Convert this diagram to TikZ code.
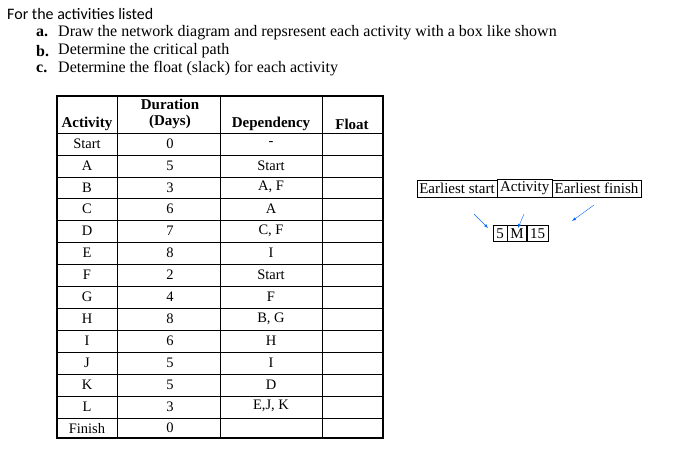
\documentclass[tikz,border=0pt]{standalone}
\usepackage{fontspec}
\setmainfont{Liberation Serif}
\newfontfamily\headfont{Carlito}
\usetikzlibrary{positioning}

\tikzset{
    cell/.style={inner sep=0pt, font=\fontsize{14.5}{16}\selectfont},
    legendbox/.style={draw, thin, minimum height=17pt, inner sep=2.5pt, font=\fontsize{15}{16}\selectfont},
    pointer/.style={draw=blue!60!cyan, -latex},
}

\begin{document}
\begin{tikzpicture}[x=1pt,y=-1pt]
    \useasboundingbox (0,0) rectangle (682,454);

    % question text
    \node[anchor=west, inner sep=0pt, font=\headfont\fontsize{16}{18}\selectfont] (title) at (7,14) {For the activities listed};
    \foreach \y/\lbl/\txt in {33/a./Draw the network diagram and repsresent each activity with a box like shown,
                              51/b./Determine the critical path,
                              69/c./Determine the float (slack) for each activity} {
        \node[anchor=west, inner sep=0pt, font=\bfseries\fontsize{16}{18}\selectfont] at (36,\y) {\lbl};
        \node[anchor=west, inner sep=0pt, font=\fontsize{16}{18}\selectfont] at (58,\y) {\txt};
    }

    % table
    \draw[thin] (117,96) -- (117,438);
    \draw[thin] (220,96) -- (220,438);
    \draw[thin] (322,96) -- (322,438);
    \draw[thin] (57,133) -- (383,133);
    \foreach \i in {1,...,13} {
        \draw[thin] (57,{133+21.9*\i}) -- (383,{133+21.9*\i});
    }
    \draw[line width=1.5pt] (57,96) rectangle (383,438);

    \node[cell, font=\bfseries\fontsize{15}{16}\selectfont] at (87,124) {Activity};
    \node[cell, font=\bfseries\fontsize{15}{16}\selectfont, align=center] at (170,114) {Duration\\(Days)};
    \node[cell, font=\bfseries\fontsize{15}{16}\selectfont] at (271,124) {Dependency};
    \node[cell, font=\bfseries\fontsize{15}{16}\selectfont] at (352,124) {Float};

    \foreach \act/\dur/\dep [count=\r from 0] in {Start/0/-, A/5/Start, B/3/{A, F}, C/6/A, D/7/{C, F},
            E/8/I, F/2/Start, G/4/F, H/8/{B, G}, I/6/H, J/5/I, K/5/D, L/3/{E,J, K}, Finish/0/{}} {
        \node[cell] at (87,{143.5+21.9*\r}) {\act};
        \node[cell] at (170,{143.5+21.9*\r}) {\dur};
        \node[cell] at (271,{143.5+21.9*\r}) {\dep};
    }

    % legend
    \node[legendbox] (es) at (457,188.5) {Earliest start};
    \node[legendbox, right=0pt of es] (act) {Activity};
    \node[legendbox, right=0pt of act] (ef) {Earliest finish};

    \node[legendbox, minimum height=16pt, inner sep=3pt] (m) at (517,233.5) {M};
    \node[legendbox, minimum height=16pt, inner sep=3pt, left=0pt of m] (five) {5};
    \node[legendbox, minimum height=16pt, inner sep=3pt, right=0pt of m] (fifteen) {15};

    \coordinate (p1) at (474,214);
    \coordinate (p2) at (524,214);
    \coordinate (p3) at (594,205);
    \coordinate (q1) at (488,228);
    \coordinate (q2) at (518,228);
    \coordinate (q3) at (572,221);
    \draw[pointer] (p1) -- (q1);
    \draw[pointer] (p2) -- (q2);
    \draw[pointer] (p3) -- (q3);
\end{tikzpicture}
\end{document}
